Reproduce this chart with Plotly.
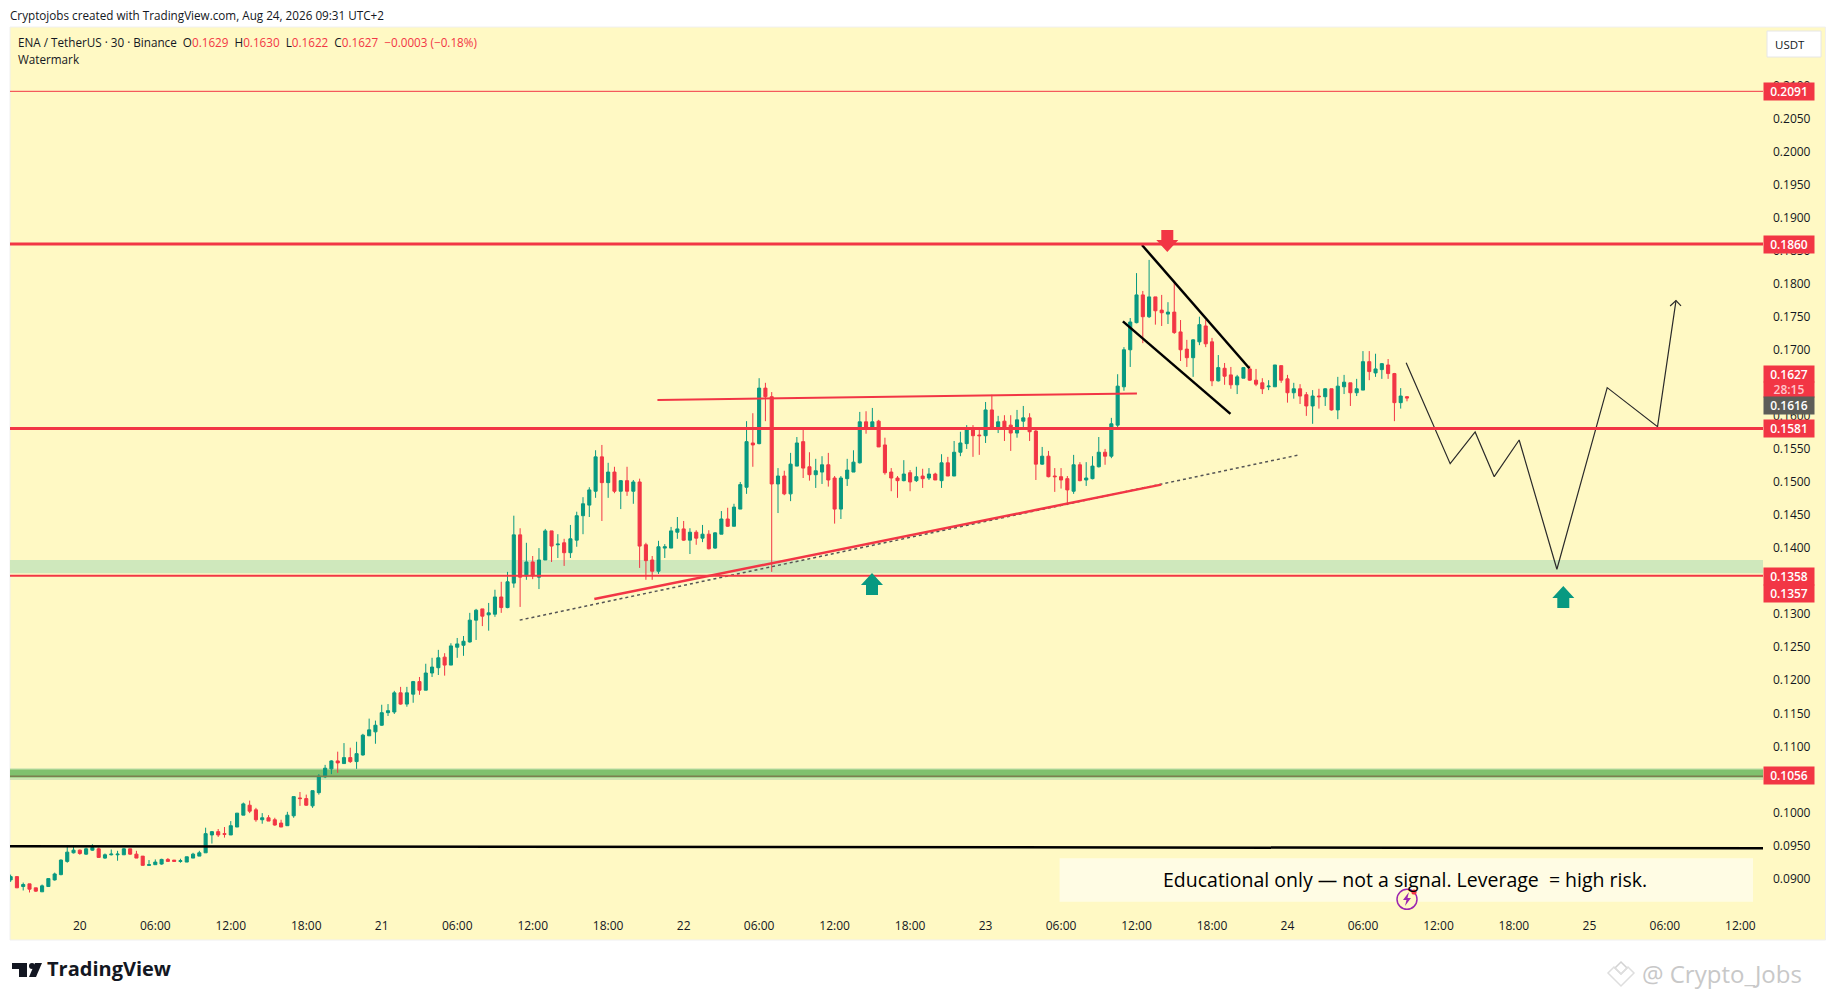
import pandas as pd
import plotly.graph_objects as go

# ENA/USDT 30m candles, first bar is Aug 19 18:30
START_TIME = "2026-08-19 18:30"

opens = [0.0898, 0.0903, 0.0888, 0.0892, 0.0886, 0.0880, 0.0888, 0.0898, 0.0906, 0.0926, 0.0939,
         0.0943, 0.0937, 0.0943, 0.0945, 0.0931, 0.0936, 0.0936, 0.0936, 0.0945, 0.0937, 0.0934, 0.0920, 0.0921, 0.0922, 0.0929, 0.0928, 0.0926, 0.0925, 0.0931, 0.0934,
         0.0939, 0.0966, 0.0971, 0.0968, 0.0966, 0.0978, 0.0996, 0.1011, 0.1004, 0.0989, 0.0992, 0.0989, 0.0984, 0.0980, 0.0995, 0.1022, 0.1021, 0.1010, 0.1030, 0.1054,
         0.1066, 0.1078, 0.1074, 0.1083, 0.1077, 0.1087, 0.1116, 0.1122, 0.1132, 0.1151, 0.1152, 0.1181, 0.1164, 0.1179, 0.1198, 0.1185, 0.1211, 0.1219, 0.1235, 0.1223, 0.1250,
         0.1253, 0.1258, 0.1291, 0.1308, 0.1299, 0.1300, 0.1326, 0.1310, 0.1347, 0.1420, 0.1358, 0.1379, 0.1356, 0.1382, 0.1426, 0.1405, 0.1408, 0.1393, 0.1412, 0.1449, 0.1465,
         0.1486, 0.1538, 0.1499, 0.1515, 0.1486, 0.1502, 0.1486, 0.1500, 0.1405, 0.1382, 0.1365, 0.1400, 0.1400, 0.1424, 0.1429, 0.1412, 0.1424, 0.1415, 0.1421, 0.1400,
         0.1421, 0.1444, 0.1433, 0.1459, 0.1492, 0.1559, 0.1558, 0.1642, 0.1629, 0.1497, 0.1509, 0.1482, 0.1524, 0.1561, 0.1523, 0.1511, 0.1515, 0.1526, 0.1506, 0.1459, 0.1505,
         0.1515, 0.1529, 0.1591, 0.1583, 0.1592, 0.1556, 0.1515, 0.1506, 0.1502, 0.1514, 0.1502, 0.1509, 0.1506, 0.1512, 0.1502, 0.1529, 0.1509, 0.1545, 0.1558, 0.1580, 0.1571,
         0.1570, 0.1609, 0.1582, 0.1592, 0.1586, 0.1574, 0.1592, 0.1597, 0.1577, 0.1527, 0.1539, 0.1509, 0.1508, 0.1505, 0.1486, 0.1526, 0.1503, 0.1505, 0.1523, 0.1545, 0.1539,
         0.1586, 0.1644, 0.1700, 0.1741, 0.1783, 0.1750, 0.1780, 0.1760, 0.1754, 0.1757, 0.1727, 0.1701, 0.1688, 0.1712, 0.1736, 0.1712, 0.1653, 0.1672, 0.1662, 0.1647, 0.1657,
         0.1671, 0.1654, 0.1650, 0.1644, 0.1644, 0.1676, 0.1656, 0.1635, 0.1641, 0.1632, 0.1615, 0.1630, 0.1629, 0.1641, 0.1609, 0.1644, 0.1650, 0.1635, 0.1639, 0.1682, 0.1665,
         0.1670, 0.1677, 0.1664, 0.1620, 0.1629]
highs = [0.0906, 0.0903, 0.0894, 0.0892, 0.0886, 0.0891, 0.0900, 0.0909, 0.0929, 0.0950, 0.0950,
         0.0944, 0.0947, 0.0952, 0.0947, 0.0938, 0.0944, 0.0942, 0.0946, 0.0945, 0.0942, 0.0934, 0.0928, 0.0929, 0.0930, 0.0931, 0.0928, 0.0930, 0.0933, 0.0939, 0.0942,
         0.0977, 0.0972, 0.0975, 0.0978, 0.0987, 0.0999, 0.1015, 0.1018, 0.1007, 0.0999, 0.0996, 0.0992, 0.0989, 0.1001, 0.1024, 0.1031, 0.1027, 0.1033, 0.1058, 0.1072,
         0.1079, 0.1092, 0.1105, 0.1098, 0.1107, 0.1119, 0.1142, 0.1139, 0.1163, 0.1164, 0.1184, 0.1190, 0.1190, 0.1199, 0.1205, 0.1225, 0.1234, 0.1246, 0.1241, 0.1256, 0.1264,
         0.1267, 0.1302, 0.1308, 0.1308, 0.1317, 0.1337, 0.1349, 0.1364, 0.1449, 0.1430, 0.1408, 0.1388, 0.1400, 0.1429, 0.1426, 0.1421, 0.1414, 0.1435, 0.1455, 0.1477, 0.1492,
         0.1548, 0.1556, 0.1529, 0.1523, 0.1503, 0.1523, 0.1503, 0.1505, 0.1408, 0.1388, 0.1411, 0.1406, 0.1432, 0.1447, 0.1441, 0.1430, 0.1427, 0.1435, 0.1427, 0.1424,
         0.1456, 0.1461, 0.1467, 0.1500, 0.1592, 0.1604, 0.1657, 0.1650, 0.1636, 0.1521, 0.1517, 0.1544, 0.1568, 0.1579, 0.1545, 0.1535, 0.1539, 0.1544, 0.1509, 0.1509, 0.1535,
         0.1548, 0.1606, 0.1607, 0.1612, 0.1594, 0.1567, 0.1521, 0.1509, 0.1533, 0.1518, 0.1523, 0.1520, 0.1521, 0.1514, 0.1542, 0.1538, 0.1562, 0.1576, 0.1586, 0.1586, 0.1579,
         0.1621, 0.1632, 0.1600, 0.1601, 0.1601, 0.1609, 0.1615, 0.1604, 0.1579, 0.1553, 0.1547, 0.1521, 0.1521, 0.1509, 0.1541, 0.1530, 0.1530, 0.1539, 0.1568, 0.1550, 0.1597,
         0.1663, 0.1704, 0.1748, 0.1816, 0.1789, 0.1836, 0.1780, 0.1783, 0.1772, 0.1803, 0.1745, 0.1715, 0.1716, 0.1750, 0.1745, 0.1718, 0.1692, 0.1680, 0.1674, 0.1662, 0.1674,
         0.1676, 0.1671, 0.1657, 0.1654, 0.1677, 0.1676, 0.1662, 0.1650, 0.1648, 0.1636, 0.1639, 0.1641, 0.1642, 0.1641, 0.1659, 0.1662, 0.1650, 0.1656, 0.1698, 0.1698,
         0.1694, 0.1680, 0.1686, 0.1665, 0.1642, 0.1630]
lows = [0.0895, 0.0886, 0.0882, 0.0879, 0.0880, 0.0880, 0.0888, 0.0897, 0.0905, 0.0924, 0.0938,
        0.0936, 0.0936, 0.0942, 0.0932, 0.0930, 0.0935, 0.0927, 0.0936, 0.0936, 0.0931, 0.0920, 0.0920, 0.0921, 0.0921, 0.0926, 0.0926, 0.0924, 0.0925, 0.0931, 0.0934,
        0.0939, 0.0953, 0.0963, 0.0962, 0.0966, 0.0978, 0.0996, 0.0999, 0.0986, 0.0983, 0.0987, 0.0980, 0.0978, 0.0980, 0.0992, 0.1010, 0.1010, 0.1007, 0.1027, 0.1052,
        0.1058, 0.1060, 0.1074, 0.1075, 0.1066, 0.1086, 0.1116, 0.1104, 0.1131, 0.1146, 0.1149, 0.1163, 0.1160, 0.1166, 0.1178, 0.1185, 0.1205, 0.1208, 0.1207, 0.1223, 0.1234,
        0.1237, 0.1257, 0.1261, 0.1282, 0.1275, 0.1296, 0.1302, 0.1309, 0.1340, 0.1311, 0.1352, 0.1353, 0.1338, 0.1382, 0.1379, 0.1385, 0.1373, 0.1385, 0.1402, 0.1421, 0.1447,
        0.1476, 0.1441, 0.1476, 0.1483, 0.1459, 0.1479, 0.1467, 0.1370, 0.1352, 0.1352, 0.1361, 0.1385, 0.1400, 0.1414, 0.1411, 0.1391, 0.1405, 0.1409, 0.1398, 0.1399,
        0.1421, 0.1432, 0.1433, 0.1459, 0.1482, 0.1523, 0.1557, 0.1592, 0.1364, 0.1453, 0.1480, 0.1471, 0.1524, 0.1506, 0.1502, 0.1491, 0.1497, 0.1493, 0.1437, 0.1444, 0.1494,
        0.1515, 0.1528, 0.1573, 0.1581, 0.1553, 0.1511, 0.1486, 0.1476, 0.1501, 0.1486, 0.1500, 0.1491, 0.1503, 0.1503, 0.1491, 0.1509, 0.1509, 0.1539, 0.1550, 0.1538, 0.1541,
        0.1559, 0.1581, 0.1574, 0.1562, 0.1547, 0.1567, 0.1580, 0.1562, 0.1503, 0.1526, 0.1507, 0.1485, 0.1490, 0.1465, 0.1482, 0.1501, 0.1494, 0.1504, 0.1522, 0.1526, 0.1536,
        0.1579, 0.1638, 0.1674, 0.1740, 0.1710, 0.1748, 0.1738, 0.1736, 0.1739, 0.1724, 0.1683, 0.1674, 0.1659, 0.1707, 0.1704, 0.1645, 0.1652, 0.1647, 0.1641, 0.1633, 0.1657,
        0.1653, 0.1645, 0.1633, 0.1639, 0.1644, 0.1650, 0.1620, 0.1626, 0.1618, 0.1600, 0.1588, 0.1611, 0.1615, 0.1608, 0.1595, 0.1633, 0.1615, 0.1630, 0.1639, 0.1654,
        0.1659, 0.1656, 0.1656, 0.1592, 0.1611, 0.1622]
closes = [0.0903, 0.0886, 0.0891, 0.0884, 0.0881, 0.0889, 0.0900, 0.0907, 0.0928, 0.0940, 0.0943,
          0.0938, 0.0945, 0.0947, 0.0932, 0.0936, 0.0937, 0.0937, 0.0945, 0.0937, 0.0931, 0.0920, 0.0921, 0.0925, 0.0929, 0.0926, 0.0926, 0.0927, 0.0933, 0.0937, 0.0939,
          0.0968, 0.0971, 0.0966, 0.0967, 0.0980, 0.0999, 0.1013, 0.1002, 0.0989, 0.0992, 0.0987, 0.0981, 0.0978, 0.0996, 0.1024, 0.1021, 0.1011, 0.1033, 0.1055, 0.1067,
          0.1078, 0.1075, 0.1083, 0.1077, 0.1089, 0.1117, 0.1125, 0.1132, 0.1151, 0.1154, 0.1181, 0.1164, 0.1181, 0.1198, 0.1185, 0.1211, 0.1220, 0.1234, 0.1223, 0.1252, 0.1255,
          0.1259, 0.1291, 0.1306, 0.1297, 0.1302, 0.1326, 0.1310, 0.1349, 0.1420, 0.1356, 0.1379, 0.1358, 0.1382, 0.1426, 0.1403, 0.1406, 0.1393, 0.1414, 0.1449, 0.1467, 0.1488,
          0.1538, 0.1499, 0.1515, 0.1486, 0.1502, 0.1486, 0.1500, 0.1403, 0.1381, 0.1365, 0.1402, 0.1402, 0.1426, 0.1429, 0.1412, 0.1424, 0.1415, 0.1421, 0.1399, 0.1423,
          0.1444, 0.1433, 0.1462, 0.1496, 0.1561, 0.1556, 0.1642, 0.1629, 0.1497, 0.1509, 0.1482, 0.1527, 0.1559, 0.1521, 0.1511, 0.1517, 0.1526, 0.1503, 0.1459, 0.1506, 0.1518,
          0.1530, 0.1591, 0.1583, 0.1591, 0.1553, 0.1514, 0.1506, 0.1502, 0.1512, 0.1500, 0.1508, 0.1505, 0.1512, 0.1503, 0.1529, 0.1509, 0.1545, 0.1559, 0.1580, 0.1570, 0.1570,
          0.1609, 0.1582, 0.1591, 0.1582, 0.1574, 0.1594, 0.1597, 0.1576, 0.1527, 0.1539, 0.1508, 0.1508, 0.1503, 0.1488, 0.1526, 0.1502, 0.1506, 0.1524, 0.1545, 0.1539, 0.1588,
          0.1645, 0.1700, 0.1742, 0.1783, 0.1750, 0.1780, 0.1759, 0.1756, 0.1757, 0.1726, 0.1700, 0.1688, 0.1715, 0.1738, 0.1709, 0.1653, 0.1673, 0.1660, 0.1647, 0.1659, 0.1673,
          0.1654, 0.1648, 0.1641, 0.1645, 0.1677, 0.1654, 0.1635, 0.1641, 0.1630, 0.1615, 0.1630, 0.1629, 0.1641, 0.1609, 0.1645, 0.1651, 0.1635, 0.1641, 0.1682, 0.1667,
          0.1671, 0.1679, 0.1664, 0.1620, 0.1630, 0.1627]

# horizontal levels
level_thin = 0.2091
level_top = 0.1860
level_mid = 0.1581
level_low = 0.1358
level_black = [0.0949, 0.0946]
level_green = 0.1055
band_light = [0.1362, 0.1382]
band_green_outer = [0.1049, 0.1067]
band_green_inner = [0.1053, 0.1065]

# drawings: (time, price)
resist_t = ["2026-08-21 21:55", "2026-08-23 12:02"]
resist_p = [0.1624, 0.1634]
rising_t = ["2026-08-21 16:54", "2026-08-23 13:58"]
rising_p = [0.1323, 0.1496]
dotted_t = ["2026-08-21 10:58", "2026-08-24 00:56"]
dotted_p = [0.1291, 0.1541]
chan_up_t = ["2026-08-23 12:26", "2026-08-23 20:58"]
chan_up_p = [0.18585, 0.1672]
chan_lo_t = ["2026-08-23 10:55", "2026-08-23 19:28"]
chan_lo_p = [0.1743, 0.1603]
path_t = ["2026-08-24 09:26", "2026-08-24 12:56", "2026-08-24 14:55", "2026-08-24 16:26", "2026-08-24 18:25",
          "2026-08-24 21:25", "2026-08-25 01:25", "2026-08-25 05:25", "2026-08-25 06:53"]
path_p = [0.16805, 0.15277, 0.15756, 0.1508, 0.15635, 0.1368, 0.16427, 0.15837, 0.17743]
head_t = ["2026-08-25 06:25", "2026-08-25 06:53", "2026-08-25 07:17"]
head_p = [0.17663, 0.17743, 0.17663]

# axis
x_range = ["2026-08-19 18:27", "2026-08-25 13:48"]
y_range = [0.08555, 0.21883]
price_ticks = [0.09, 0.095, 0.10, 0.105, 0.11, 0.115, 0.12, 0.125, 0.13, 0.135, 0.14, 0.145, 0.15, 0.155, 0.16, 0.165, 0.17, 0.175, 0.18, 0.185, 0.19, 0.195, 0.20, 0.205, 0.21]
time_ticks = pd.date_range("2026-08-20 00:00", "2026-08-25 12:00", freq="6h")
time_labels = ["20", "06:00", "12:00", "18:00", "21", "06:00", "12:00", "18:00", "22", "06:00", "12:00", "18:00",
               "23", "06:00", "12:00", "18:00", "24", "06:00", "12:00", "18:00", "25", "06:00", "12:00"]

UP = "#089981"
DOWN = "#F23645"
BG = "#FFF9C4"
FONT = "Open Sans"
W, H = 1835, 1000
LEFT, RIGHT, TOP, BOTTOM = 10, 1763, 27, 908  # plot area in page pixels


def px(x):
    return (x - LEFT) / (RIGHT - LEFT)


def py(y):
    return 1 - (y - TOP) / (BOTTOM - TOP)


def rect(x0, y0, x1, y1, **kw):
    return dict(type="rect", xref="paper", yref="paper", x0=px(x0), x1=px(x1), y0=py(y0), y1=py(y1), **kw)


def data_rect(y0, y1, color, layer="below"):
    return dict(type="rect", xref="paper", x0=0, x1=1, yref="y", y0=y0, y1=y1, fillcolor=color, line_width=0, layer=layer)


def hline(y, color, width):
    return dict(type="line", xref="paper", x0=0, x1=1, yref="y", y0=y, y1=y, line=dict(color=color, width=width))


def poly(pts, **kw):
    path = "M " + " L ".join(f"{px(a):.5f},{py(b):.5f}" for a, b in pts) + " Z"
    return dict(type="path", xref="paper", yref="paper", path=path, **kw)


def arrow(cx, tip, down, color):
    # block arrow, 22px tall, drawn in page pixels
    s = 1 if down else -1
    pts = [(cx, tip), (cx - 11, tip - s * 12), (cx - 6, tip - s * 12), (cx - 6, tip - s * 22),
           (cx + 6, tip - s * 22), (cx + 6, tip - s * 12), (cx + 11, tip - s * 12)]
    return poly(pts, fillcolor=color, line_width=0)


def circle(cx, cy, r, **kw):
    return dict(type="circle", xref="paper", yref="paper", x0=px(cx - r), x1=px(cx + r), y0=py(cy - r), y1=py(cy + r), **kw)


def price_label(text, y0, y1, bg=DOWN, color="white"):
    return dict(xref="paper", yref="paper", x=1, y=py((y0 + y1) / 2), xanchor="left", yanchor="middle", text=text,
                showarrow=False, width=50, height=y1 - y0, bgcolor=bg, borderpad=0, align="center",
                font=dict(family=FONT, size=12, color=color, weight=600))


def note(x, y, text, size=11.7, color="#131722", anchor="left", family=FONT):
    return dict(xref="paper", yref="paper", x=px(x), y=py(y), xanchor=anchor, yanchor="middle", text=text, showarrow=False,
                borderpad=0, font=dict(family=family, size=size, color=color))


fig = go.Figure()

fig.add_trace(go.Candlestick(
    x=pd.date_range(START_TIME, periods=len(opens), freq="30min"),
    open=opens, high=highs, low=lows, close=closes,
    increasing=dict(line=dict(color=UP, width=1), fillcolor=UP),
    decreasing=dict(line=dict(color=DOWN, width=1), fillcolor=DOWN),
    whiskerwidth=0, hoverinfo="skip", showlegend=False,
))


def draw(t, p, color, width, dash="solid"):
    fig.add_trace(go.Scatter(x=t, y=p, mode="lines", line=dict(color=color, width=width, dash=dash),
                             hoverinfo="skip", showlegend=False))


draw(dotted_t, dotted_p, "#555555", 1.5, "dot")
draw(resist_t, resist_p, DOWN, 2)
draw(rising_t, rising_p, DOWN, 2.5)
draw(chan_up_t, chan_up_p, "#000000", 2.5)
draw(chan_lo_t, chan_lo_p, "#000000", 2.5)
draw(path_t, path_p, "#2A2A2A", 1.2)
draw(head_t, head_p, "#2A2A2A", 1.2)
draw(x_range, level_black, "#000000", 2.5)

shapes = [
    rect(10, 27, 1825.5, 940, fillcolor=BG, line=dict(color="#F0F0F0", width=1), layer="below"),
    data_rect(band_light[0], band_light[1], "#CFE8BC"),
    data_rect(band_green_outer[0], band_green_outer[1], "#CFE4B2"),
    data_rect(band_green_inner[0], band_green_inner[1], "#7FC16E"),
    hline(level_green, "#7B7F4F", 1.5),
    hline(level_thin, DOWN, 1),
    hline(level_top, DOWN, 3),
    hline(level_mid, DOWN, 3),
    hline(level_low, DOWN, 2),
    arrow(1167.3, 252, True, DOWN),
    arrow(872, 573, False, UP),
    arrow(1563.3, 586, False, UP),
    # disclaimer box and its lightning badge
    rect(1059.6, 858.3, 1753, 901.7, fillcolor="#FFFCE4", line_width=0, layer="above"),
    circle(1407, 899.3, 10, fillcolor=BG, line=dict(color="#9C27B0", width=1.5), layer="above"),
    poly([(1409, 892), (1403, 900), (1406.5, 900), (1405, 906), (1411, 898), (1407.5, 898)], fillcolor="#9C27B0", line_width=0, layer="above"),
    circle(1414, 892, 2.6, fillcolor=DOWN, line_width=0, layer="above"),
    # USDT button
    rect(1767, 31, 1821, 57, fillcolor="white", line=dict(color="#E6E6E6", width=1), layer="above"),
    # TradingView logo
    rect(12, 963, 27, 969, fillcolor="#131722", line_width=0),
    rect(19, 963, 27, 977, fillcolor="#131722", line_width=0),
    circle(32, 966, 3, fillcolor="#131722", line_width=0),
    poly([(35, 963), (42, 963), (36, 977), (29, 977)], fillcolor="#131722", line_width=0),
    # exchange mark beside the watermark
    poly([(1621, 962), (1627, 968), (1621, 974), (1615, 968)], fillcolor="rgba(0,0,0,0)", line=dict(color="#D2D2D2", width=1.5)),
    poly([(1621, 974), (1628, 967), (1634, 973), (1621, 986), (1608, 973), (1614, 967)], fillcolor="rgba(0,0,0,0)", line=dict(color="#DEDEDE", width=1.5)),
]

legend_line = ("ENA / TetherUS · 30 · Binance  "
               f"O<span style='color:{DOWN}'>0.1629</span>  H<span style='color:{DOWN}'>0.1630</span>  "
               f"L<span style='color:{DOWN}'>0.1622</span>  C<span style='color:{DOWN}'>0.1627</span>  "
               f"<span style='color:{DOWN}'>−0.0003 (−0.18%)</span>")

annotations = [
    note(9, 15, "Cryptojobs created with TradingView.com, Aug 24, 2026 09:31 UTC+2"),
    note(17, 42, legend_line),
    note(17, 59, "Watermark"),
    note(1790, 44, "USDT", size=11.5, anchor="center"),
    price_label("0.2091", 83, 100),
    price_label("0.1860", 236, 253),
    price_label("0.1627", 366, 382),
    price_label("28:15", 382, 397, color="#FFC4CA"),
    price_label("0.1616", 397, 414, bg="#5D5D58"),
    price_label("0.1581", 420, 437),
    price_label("0.1358", 568, 585),
    price_label("0.1357", 585, 602),
    price_label("0.1056", 767, 784),
    note(1405, 879.5, "Educational only — not a signal. Leverage  = high risk.", size=19.5, color="#000000", anchor="center"),
    note(46, 969, "<b>TradingView</b>", size=20, color="#131722"),
    note(1641, 973, "@ Crypto_Jobs", size=24, color="#C8C8C8"),
]

fig.update_layout(
    width=W, height=H,
    margin=dict(l=LEFT, r=W - RIGHT, t=TOP, b=H - BOTTOM, pad=0, autoexpand=False),
    paper_bgcolor="white", plot_bgcolor="rgba(0,0,0,0)",
    font=dict(family=FONT, size=12, color="#131722"),
    shapes=shapes, annotations=annotations,
    showlegend=False,
    xaxis=dict(type="date", range=x_range, rangeslider=dict(visible=False), showgrid=False, zeroline=False,
               showline=False, ticks="", tickmode="array", tickvals=time_ticks, ticktext=time_labels,
               tickfont=dict(family=FONT, size=12, color="#131722"), ticklabelstandoff=9),
    yaxis=dict(side="right", range=y_range, showgrid=False, zeroline=False, showline=False, ticks="",
               tickmode="array", tickvals=price_ticks, ticktext=[f"{v:.4f}" for v in price_ticks],
               tickfont=dict(family=FONT, size=12, color="#131722"), ticklabelstandoff=9),
)

fig.write_html("out.html", config=dict(displayModeBar=False),
               post_script="document.body.style.margin='0';document.documentElement.style.overflow='hidden';")
